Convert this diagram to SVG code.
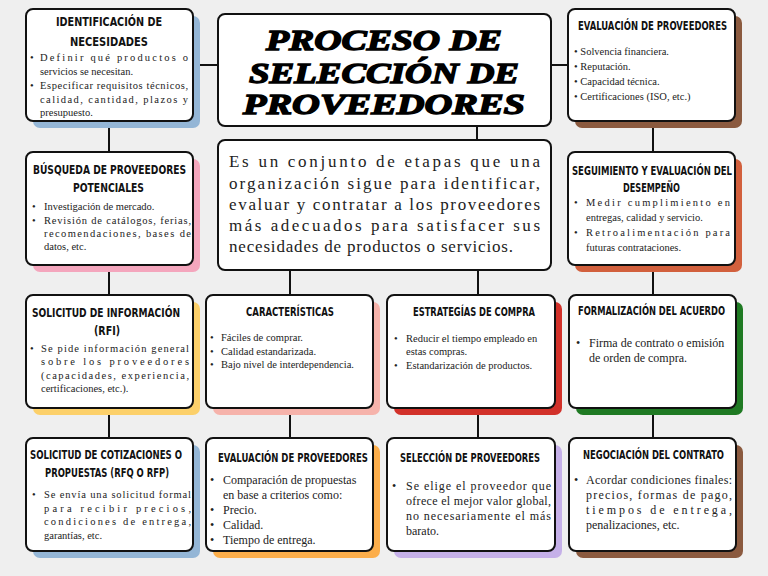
<svg xmlns="http://www.w3.org/2000/svg" width="768" height="576" viewBox="0 0 768 576">
<style>
.b{fill:#fff;stroke:#111;stroke-width:2}
.h{font-family:"DejaVu Sans Condensed","DejaVu Sans",sans-serif;font-weight:bold;font-size:12px;fill:#111}
.t{font-family:"Liberation Serif",serif;font-size:10.5px;fill:#222}
.t2{font-family:"Liberation Serif",serif;font-size:12px;fill:#222}
.c{stroke:#111;stroke-width:2;fill:none}
</style>
<rect width="768" height="576" fill="#efefef"/>
<g id="connectors">
<path class="c" d="M193 65H218M551 65H568M109 121V152M109 265V295M109 408V438M653 121V152M653 265V295M653 408V438M477 126V140M290 270V295M478 270V295M290 408V438M478 408V438"/>
</g>
<g id="n1"><rect x="33" y="16" width="167" height="112" rx="7" fill="#94b6d6"/><rect class="b" x="26" y="9" width="167" height="112" rx="7"/>
<text class="h" x="56" y="26" textLength="106" lengthAdjust="spacingAndGlyphs">IDENTIFICACIÓN DE</text><text class="h" x="70" y="46" textLength="78" lengthAdjust="spacingAndGlyphs">NECESIDADES</text>
<text class="t"><tspan x="30" y="61">•</tspan><tspan x="40" y="61" textLength="148" lengthAdjust="spacing">Definir qué productos o</tspan><tspan x="40" y="75">servicios se necesitan.</tspan><tspan x="30" y="89">•</tspan><tspan x="40" y="89" textLength="148" lengthAdjust="spacing">Especificar requisitos técnicos,</tspan><tspan x="40" y="103" textLength="148" lengthAdjust="spacing">calidad, cantidad, plazos y</tspan><tspan x="40" y="116">presupuesto.</tspan></text></g>
<g id="title"><rect class="b" x="218" y="14" width="333" height="112" rx="7"/>
<text font-family="Liberation Serif,serif" font-weight="900" font-style="italic" font-size="29" text-anchor="middle" fill="#000" stroke="#000" stroke-width="1.4"><tspan x="384" y="50" textLength="236" lengthAdjust="spacingAndGlyphs">PROCESO DE</tspan><tspan x="384" y="83" textLength="270" lengthAdjust="spacingAndGlyphs">SELECCIÓN DE</tspan><tspan x="384" y="114" textLength="282" lengthAdjust="spacingAndGlyphs">PROVEEDORES</tspan></text></g>
<g id="n2"><rect x="575" y="16" width="167" height="112" rx="7" fill="#8b5a3f"/><rect class="b" x="568" y="9" width="167" height="112" rx="7"/>
<text class="h" x="578" y="30" textLength="149" lengthAdjust="spacingAndGlyphs">EVALUACIÓN DE PROVEEDORES</text>
<text class="t"><tspan x="574" y="55">•  Solvencia financiera.</tspan><tspan x="574" y="70">•  Reputación.</tspan><tspan x="574" y="85">•  Capacidad técnica.</tspan><tspan x="574" y="100">•  Certificaciones (ISO, etc.)</tspan></text></g>
<g id="n3"><rect x="33" y="159" width="167" height="113" rx="7" fill="#f4a6bd"/><rect class="b" x="26" y="152" width="167" height="113" rx="7"/>
<text class="h" x="33" y="174" textLength="153" lengthAdjust="spacingAndGlyphs">BÚSQUEDA DE PROVEEDORES</text><text class="h" x="73" y="192" textLength="71" lengthAdjust="spacingAndGlyphs">POTENCIALES</text>
<text class="t"><tspan x="32" y="210">•</tspan><tspan x="44" y="210">Investigación de mercado.</tspan><tspan x="32" y="224">•</tspan><tspan x="44" y="224" textLength="147" lengthAdjust="spacing">Revisión de catálogos, ferias,</tspan><tspan x="44" y="237" textLength="147" lengthAdjust="spacing">recomendaciones, bases de</tspan><tspan x="44" y="250">datos, etc.</tspan></text></g>
<g id="desc"><rect class="b" x="218" y="140" width="333" height="130" rx="7"/>
<text font-family="Liberation Serif,serif" font-size="17" fill="#222"><tspan x="229" y="167" textLength="311" lengthAdjust="spacing">Es un conjunto de etapas que una</tspan><tspan x="229" y="189" textLength="311" lengthAdjust="spacing">organización sigue para identificar,</tspan><tspan x="229" y="210" textLength="311" lengthAdjust="spacing">evaluar y contratar a los proveedores</tspan><tspan x="229" y="231" textLength="311" lengthAdjust="spacing">más adecuados para satisfacer sus</tspan><tspan x="229" y="252" textLength="284" lengthAdjust="spacing">necesidades de productos o servicios.</tspan></text></g>
<g id="n4"><rect x="575" y="159" width="167" height="113" rx="7" fill="#d2603d"/><rect class="b" x="568" y="152" width="167" height="113" rx="7"/>
<text class="h" x="572" y="175" textLength="160" lengthAdjust="spacingAndGlyphs">SEGUIMIENTO Y EVALUACIÓN DEL</text><text class="h" x="623" y="192" textLength="57" lengthAdjust="spacingAndGlyphs">DESEMPEÑO</text>
<text class="t"><tspan x="574" y="206">•</tspan><tspan x="586" y="206" textLength="144" lengthAdjust="spacing">Medir cumplimiento en</tspan><tspan x="586" y="221">entregas, calidad y servicio.</tspan><tspan x="574" y="236">•</tspan><tspan x="586" y="236" textLength="144" lengthAdjust="spacing">Retroalimentación para</tspan><tspan x="586" y="251">futuras contrataciones.</tspan></text></g>
<g id="n5"><rect x="33" y="302" width="167" height="113" rx="7" fill="#fcd06a"/><rect class="b" x="26" y="295" width="167" height="113" rx="7"/>
<text class="h" x="32" y="317" textLength="148" lengthAdjust="spacingAndGlyphs">SOLICITUD DE INFORMACIÓN</text><text class="h" x="94" y="335" textLength="26" lengthAdjust="spacingAndGlyphs">(RFI)</text>
<text class="t"><tspan x="30" y="352">•</tspan><tspan x="41" y="352" textLength="148" lengthAdjust="spacing">Se pide información general</tspan><tspan x="41" y="365" textLength="148" lengthAdjust="spacing">sobre los proveedores</tspan><tspan x="41" y="379" textLength="148" lengthAdjust="spacing">(capacidades, experiencia,</tspan><tspan x="41" y="392">certificaciones, etc.).</tspan></text></g>
<g id="n6"><rect x="213" y="302" width="167" height="113" rx="7" fill="#f6b3ab"/><rect class="b" x="206" y="295" width="167" height="113" rx="7"/>
<text class="h" x="246" y="316" textLength="88" lengthAdjust="spacingAndGlyphs">CARACTERÍSTICAS</text>
<text class="t"><tspan x="210" y="341">•</tspan><tspan x="221" y="341">Fáciles de comprar.</tspan><tspan x="210" y="355">•</tspan><tspan x="221" y="355">Calidad estandarizada.</tspan><tspan x="210" y="368">•</tspan><tspan x="221" y="368">Bajo nivel de interdependencia.</tspan></text></g>
<g id="n7"><rect x="394" y="302" width="168" height="113" rx="7" fill="#d2312a"/><rect class="b" x="387" y="295" width="168" height="113" rx="7"/>
<text class="h" x="413" y="316" textLength="122" lengthAdjust="spacingAndGlyphs">ESTRATEGÍAS DE COMPRA</text>
<text class="t"><tspan x="394" y="342">•</tspan><tspan x="406" y="342">Reducir el tiempo empleado en</tspan><tspan x="406" y="355">estas compras.</tspan><tspan x="394" y="369">•</tspan><tspan x="406" y="369">Estandarización de productos.</tspan></text></g>
<g id="n8"><rect x="576" y="302" width="167" height="113" rx="7" fill="#1f7a23"/><rect class="b" x="569" y="295" width="167" height="113" rx="7"/>
<text class="h" x="578" y="315" textLength="147" lengthAdjust="spacingAndGlyphs">FORMALIZACIÓN DEL ACUERDO</text>
<text class="t2"><tspan x="576" y="347">•</tspan><tspan x="589" y="347">Firma de contrato o emisión</tspan><tspan x="589" y="362">de orden de compra.</tspan></text></g>
<g id="n9"><rect x="33" y="445" width="167" height="113" rx="7" fill="#94b6d6"/><rect class="b" x="26" y="438" width="167" height="113" rx="7"/>
<text class="h" x="30" y="459" textLength="152" lengthAdjust="spacingAndGlyphs">SOLICITUD DE COTIZACIONES O</text><text class="h" x="45" y="477" textLength="124" lengthAdjust="spacingAndGlyphs">PROPUESTAS (RFQ O RFP)</text>
<text class="t"><tspan x="32" y="498">•</tspan><tspan x="44" y="498" textLength="147" lengthAdjust="spacing">Se envía una solicitud formal</tspan><tspan x="44" y="512" textLength="147" lengthAdjust="spacing">para recibir precios,</tspan><tspan x="44" y="525" textLength="147" lengthAdjust="spacing">condiciones de entrega,</tspan><tspan x="44" y="539">garantías, etc.</tspan></text></g>
<g id="n10"><rect x="213" y="445" width="167" height="113" rx="7" fill="#fcae4b"/><rect class="b" x="206" y="438" width="167" height="113" rx="7"/>
<text class="h" x="218" y="462" textLength="150" lengthAdjust="spacingAndGlyphs">EVALUACIÓN DE PROVEEDORES</text>
<text class="t2"><tspan x="210" y="484">•</tspan><tspan x="223" y="484">Comparación de propuestas</tspan><tspan x="223" y="499">en base a criterios como:</tspan><tspan x="210" y="514">•</tspan><tspan x="223" y="514">Precio.</tspan><tspan x="210" y="529">•</tspan><tspan x="223" y="529">Calidad.</tspan><tspan x="210" y="544">•</tspan><tspan x="223" y="544">Tiempo de entrega.</tspan></text></g>
<g id="n11"><rect x="394" y="445" width="168" height="113" rx="7" fill="#c5b0e8"/><rect class="b" x="387" y="438" width="168" height="113" rx="7"/>
<text class="h" x="400" y="462" textLength="140" lengthAdjust="spacingAndGlyphs">SELECCIÓN DE PROVEEDORES</text>
<text class="t2"><tspan x="392" y="490">•</tspan><tspan x="406" y="490" textLength="145" lengthAdjust="spacing">Se elige el proveedor que</tspan><tspan x="406" y="505" textLength="145" lengthAdjust="spacing">ofrece el mejor valor global,</tspan><tspan x="406" y="520" textLength="145" lengthAdjust="spacing">no necesariamente el más</tspan><tspan x="406" y="535">barato.</tspan></text></g>
<g id="n12"><rect x="576" y="445" width="167" height="113" rx="7" fill="#8b5a3f"/><rect class="b" x="569" y="438" width="167" height="113" rx="7"/>
<text class="h" x="583" y="459" textLength="141" lengthAdjust="spacingAndGlyphs">NEGOCIACIÓN DEL CONTRATO</text>
<text class="t2"><tspan x="574" y="484">•</tspan><tspan x="586" y="484" textLength="146" lengthAdjust="spacing">Acordar condiciones finales:</tspan><tspan x="586" y="499" textLength="146" lengthAdjust="spacing">precios, formas de pago,</tspan><tspan x="586" y="514" textLength="146" lengthAdjust="spacing">tiempos de entrega,</tspan><tspan x="586" y="529">penalizaciones, etc.</tspan></text></g>
</svg>
